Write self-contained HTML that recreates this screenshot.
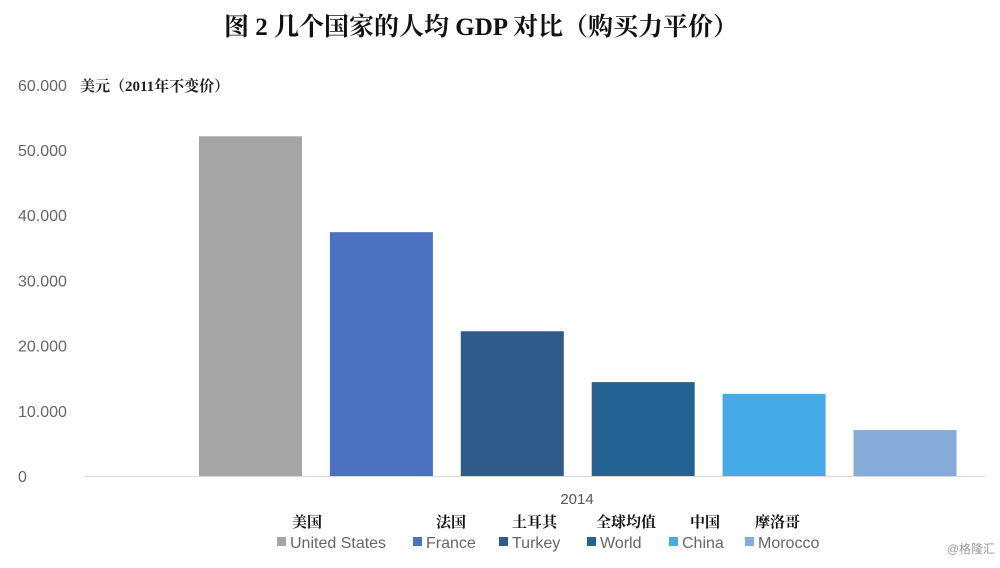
<!DOCTYPE html>
<html><head><meta charset="utf-8"><style>
body{margin:0;background:#fff;width:1000px;height:563px;overflow:hidden}
svg text{font-family:"Liberation Sans","Noto Sans CJK SC",sans-serif}
.serif{font-family:"Liberation Serif","Noto Serif CJK SC",serif}
</style></head><body>
<svg id="chart" width="1000" height="563">
<text class="serif" x="481" y="35" text-anchor="middle" font-size="25" font-weight="bold" fill="#111">图 2  几个国家的人均 GDP 对比（购买力平价）</text>
<text class="serif" x="80" y="91" font-size="15" font-weight="bold" fill="#222">美元（2011年不变价）</text>
<g id="yticks"></g>
<g id="bars"></g>
<line x1="85" y1="476.5" x2="985" y2="476.5" stroke="#d9d9d9" stroke-width="1"/>
<text x="577" y="504" text-anchor="middle" font-size="15" fill="#555">2014</text>
<g id="legend"></g>
<text x="995" y="553" text-anchor="end" font-size="12" fill="#999">@格隆汇</text>
</svg>
<script>
const categories=["United States","France","Turkey","World","China","Morocco"];
const cnLabels=["美国","法国","土耳其","全球均值","中国","摩洛哥"];
const values=[52100,37400,22200,14400,12600,7050];
const tickValues=[0,10000,20000,30000,40000,50000,60000];
const tickLabels=["0","10.000","20.000","30.000","40.000","50.000","60.000"];
const colors=["#a5a5a5","#4a72c0","#2f5b8c","#246293","#44aae8","#85acd9"];
const NS="http://www.w3.org/2000/svg";
const y0=476,pxPer=65.2/10000;
const yScale=v=>y0-v*pxPer;
const xScale=i=>199+i*130.9;
const bw=103;
function mk(t,a,p){const e=document.createElementNS(NS,t);for(const k in a)e.setAttribute(k,a[k]);p.appendChild(e);return e;}
const yt=document.getElementById('yticks');
tickValues.forEach((v,i)=>{const t=mk('text',{x:18,y:yScale(v)+6,'font-size':16,fill:'#666'},yt);t.textContent=tickLabels[i];

});
const bg=document.getElementById('bars');
values.forEach((v,i)=>{const r=mk('rect',{x:xScale(i),y:yScale(v),width:bw,height:y0-yScale(v),fill:colors[i]},bg);

});
const lg=document.getElementById('legend');
const cnX=[292,436,512,596,690,755];
const enX=[277,413,499,587,669,745];
cnLabels.forEach((c,i)=>{const t=mk('text',{x:cnX[i],y:527,'font-size':15,'font-weight':'bold',fill:'#111',class:'serif'},lg);t.textContent=c;

});
categories.forEach((c,i)=>{const r=mk('rect',{x:enX[i],y:537,width:9,height:9,fill:colors[i]},lg);


const t=mk('text',{x:enX[i]+13,y:548,'font-size':16,fill:'#666'},lg);t.textContent=c;

});
</script>
</body></html>
